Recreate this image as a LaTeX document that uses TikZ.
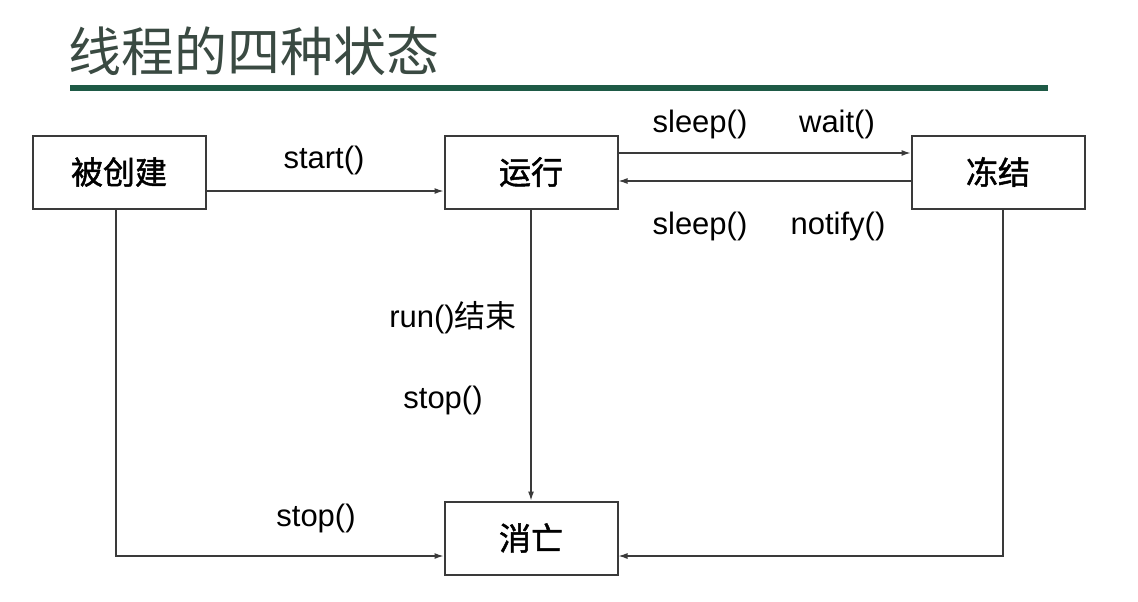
\documentclass[tikz,border=0pt]{standalone}
\usepackage{fontspec}
\setmainfont{Liberation Sans}
\newfontfamily\cjk{Noto Sans CJK SC}
\newfontfamily\cjkbox[FakeBold=1.5]{Noto Sans CJK SC}
\usetikzlibrary{arrows.meta}
\definecolor{titlegray}{HTML}{3A4A42}
\definecolor{rulegreen}{HTML}{1E5A46}
\definecolor{boxgray}{HTML}{3A3A3A}
\tikzset{
  state/.style={draw=boxgray, line width=2pt, rectangle, minimum width=173pt, minimum height=73pt, inner sep=0pt, font=\cjkbox\fontsize{32}{36}\selectfont},
  lbl/.style={inner sep=0pt, font=\fontsize{31}{35}\selectfont},
  flow/.style={draw=boxgray, line width=1.2pt, -{Latex[length=9pt,width=6pt]}}
}
\begin{document}
\begin{tikzpicture}[x=1pt,y=-1pt]
\useasboundingbox (0,0) rectangle (1138,602);
\node[anchor=west, inner sep=0pt, text=titlegray, font=\cjk\fontsize{53}{60}\selectfont] (title) at (68,51) {线程的四种状态};
\draw[rulegreen, line width=5pt] (70,88) -- (1048,88);
\node[state] (create) at (119,172) {被创建};
\node[state] (run) at (531,172) {运行};
\node[state] (freeze) at (998,172) {冻结};
\node[state] (dead) at (531,538) {消亡};
\path[flow] ([yshift=-19pt]create.east) -- ([yshift=-19pt]run.west);
\path[flow] ([yshift=19pt]run.east) -- ([yshift=19pt]freeze.west);
\path[flow] ([yshift=-9pt]freeze.west) -- ([yshift=-9pt]run.east);
\path[flow] (run) -- (dead);
\path[flow] ([xshift=-3pt]create.south) |- ([yshift=-18pt]dead.west);
\path[flow] ([xshift=5pt]freeze.south) |- ([yshift=-18pt]dead.east);
\node[lbl] (start) at (324,160) {start()};
\node[lbl] (sleep1) at (700,124) {sleep()};
\node[lbl] (wait) at (837,124) {wait()};
\node[lbl] (sleep2) at (700,226) {sleep()};
\node[lbl] (notify) at (838,226) {notify()};
\node[lbl] (runend) at (453,318) {run()\cjk 结束};
\node[lbl] (stop1) at (443,400) {stop()};
\node[lbl] (stop2) at (316,518) {stop()};
\end{tikzpicture}
\end{document}
